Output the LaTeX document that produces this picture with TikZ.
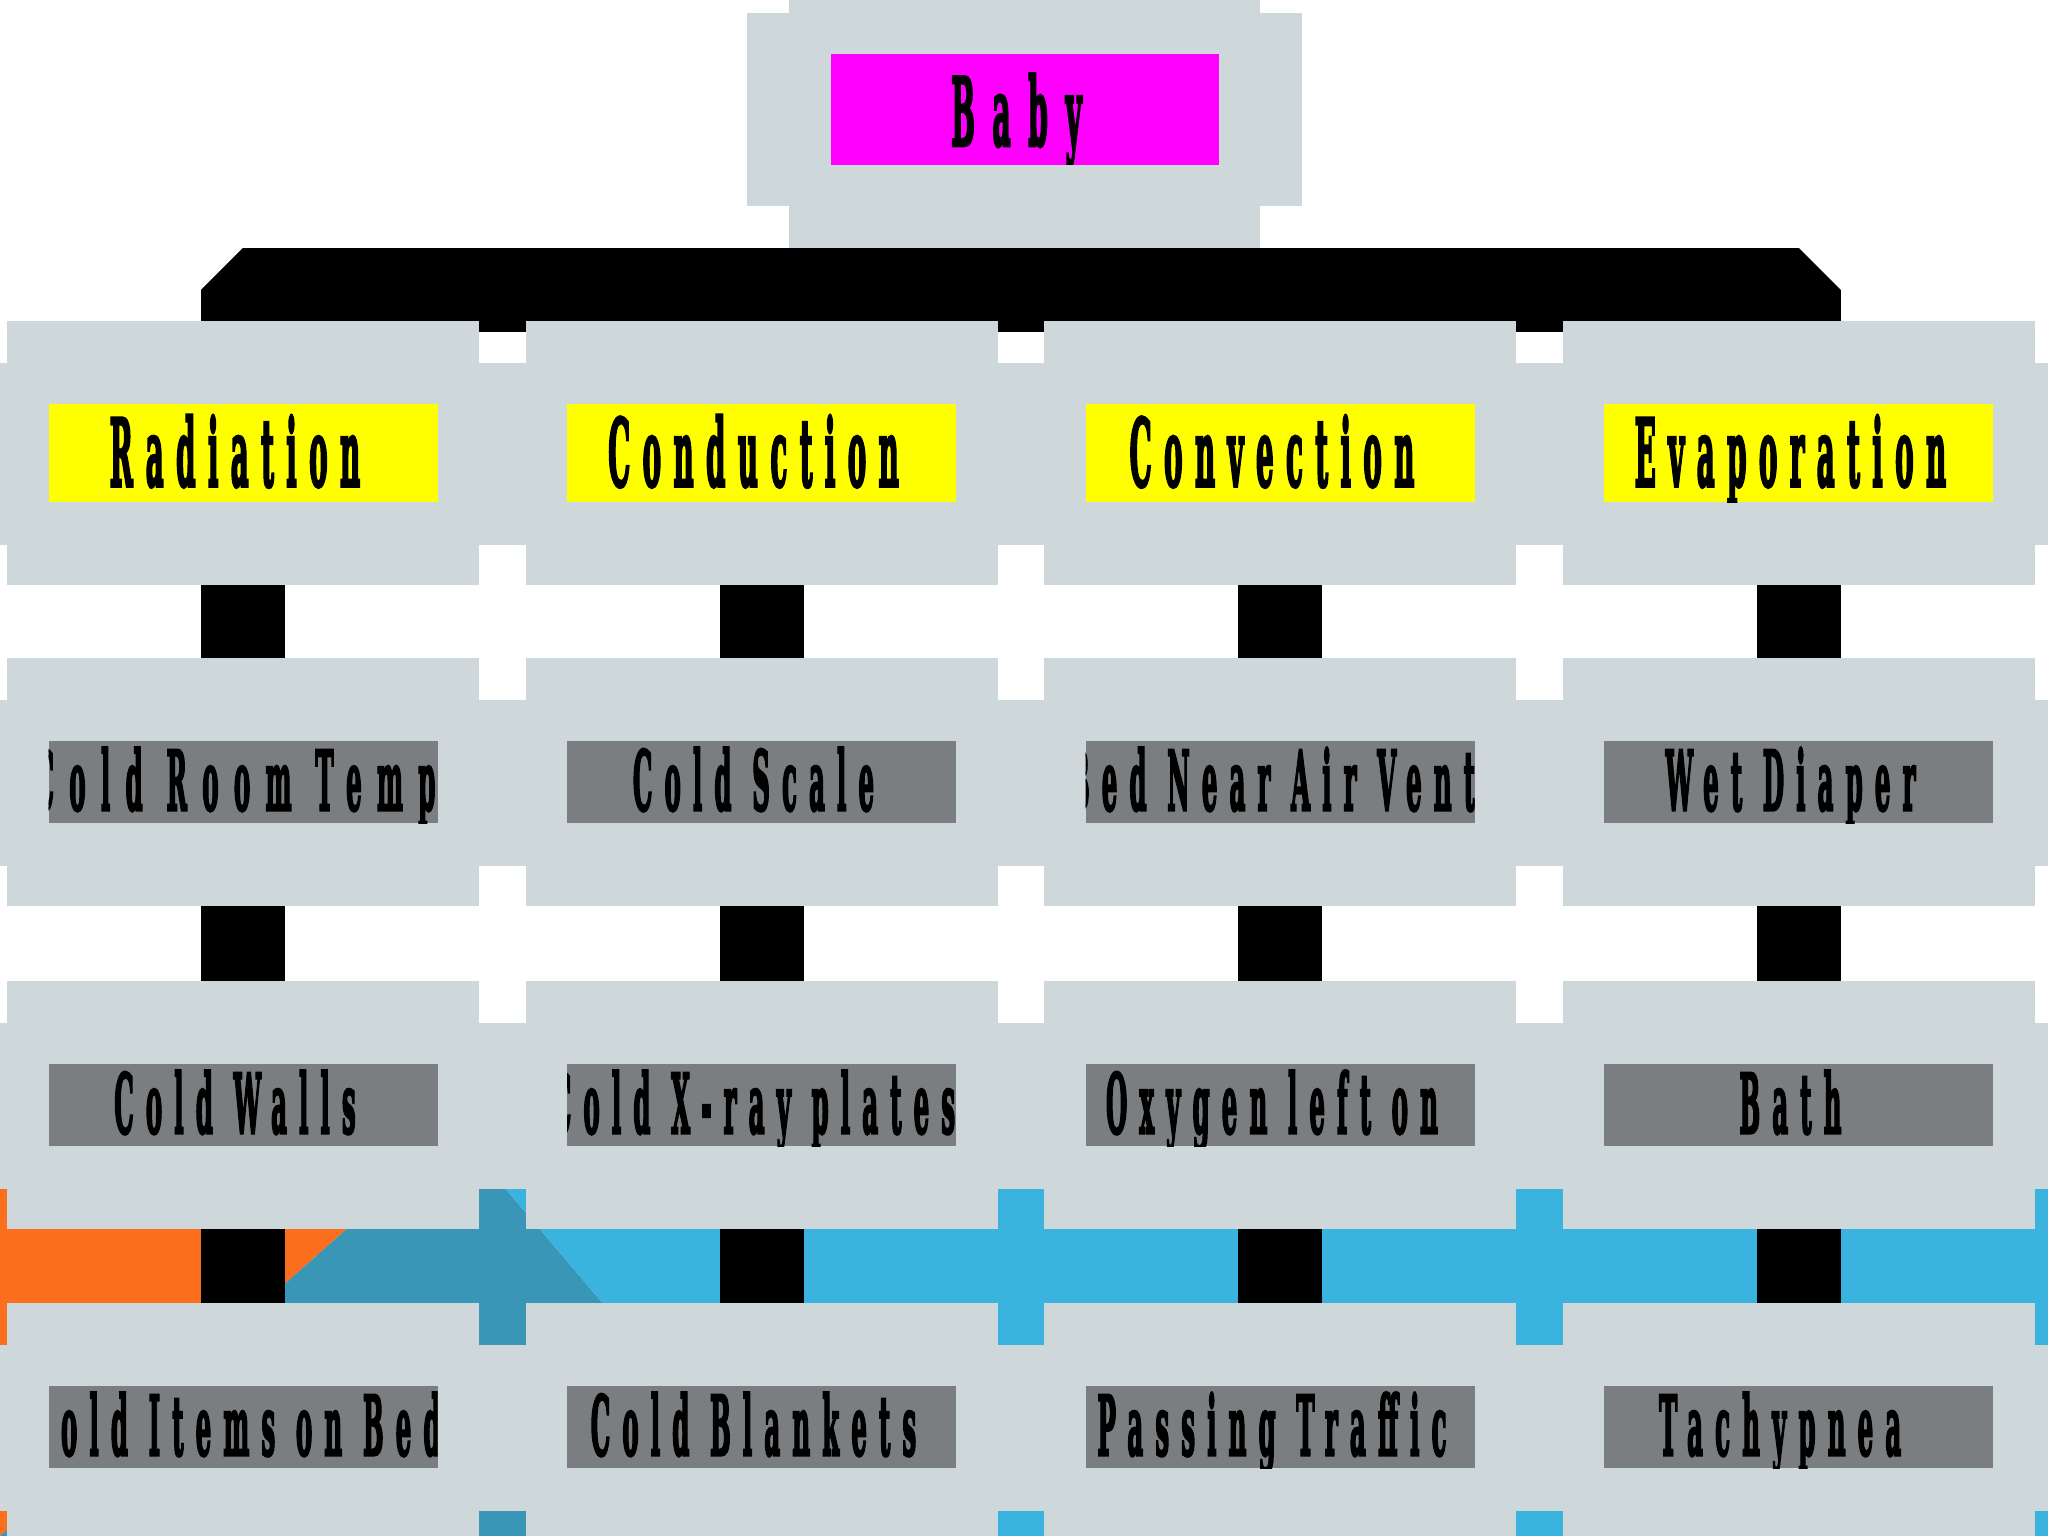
\documentclass[tikz,border=0pt]{standalone}
\usepackage{fontspec}
\usepackage{graphicx}
\newfontfamily\headfont[LetterSpace=44,BoldFeatures={FakeBold=4}]{DejaVu Serif}
\newfontfamily\cardfont[LetterSpace=49,BoldFeatures={FakeBold=4}]{DejaVu Serif}
\newfontfamily\babyfont[LetterSpace=62,BoldFeatures={FakeBold=4}]{DejaVu Serif}
\definecolor{boxgrey}{RGB}{206,216,218}
\definecolor{labgrey}{RGB}{123,126,128}
\definecolor{babypink}{RGB}{255,0,255}
\definecolor{headyellow}{RGB}{255,255,0}
\definecolor{bgorange}{RGB}{250,110,30}
\definecolor{bgteal}{RGB}{58,150,183}
\definecolor{bgblue}{RGB}{58,180,223}
\pgfdeclarelayer{bg}
\pgfdeclarelayer{links}
\pgfsetlayers{bg,links,main}

\begin{document}
\begin{tikzpicture}[x=1pt,y=-1pt,
	link/.style={line width=84pt,line join=bevel},
	card/.style={fill=boxgrey,inner sep=0pt,minimum width=472pt},
	tag/.style={inner sep=0pt,minimum width=389pt,path picture={
		\node[anchor=base,inner sep=0pt,xshift=-8pt,yshift=\tagshift] at (path picture bounding box.south) {\scalebox{0.3}[1]{\tagfont #1}};}}
	]
	\useasboundingbox (0,0) rectangle (2048,1536);
	\begin{pgfonlayer}{bg}
		\fill[white] (0,0) rectangle (2048,1536);
		\fill[bgorange] (0,1188) -- (393,1188) -- (0,1536) -- cycle;
		\fill[bgteal] (393,1188) -- (505,1188) -- (800,1536) -- (0,1536) -- cycle;
		\fill[bgblue] (505,1188) -- (2048,1188) -- (2048,1536) -- (800,1536) -- cycle;
	\end{pgfonlayer}

	\node[card,minimum width=471pt,minimum height=277pt] (baby) at (1024.5,109.5) {};
	\fill[boxgrey] (747,13) rectangle (1302,206);
	\def\tagshift{19pt}
	\def\tagfont{\babyfont\bfseries\fontsize{94}{100}\selectfont}
	\node[tag=Baby,fill=babypink,minimum width=388pt,minimum height=110pt] (babytag) at (baby) {};

	\def\tagshift{16pt}
	\def\tagfont{\headfont\bfseries\fontsize{93}{100}\selectfont}
	\foreach \n/\x/\txt in {rad/243/Radiation,cond/761.5/Conduction,conv/1280/Convection,evap/1798.5/Evaporation}
	{
		\node[card,minimum height=264pt] (\n) at (\x,453) {};
		\fill[boxgrey] ([shift={(-23pt,-42pt)}]\n.north west) rectangle ([shift={(23pt,40pt)}]\n.south east);
		\node[tag=\txt,fill=headyellow,minimum height=98pt] (\n-tag) at (\n) {};
	}

	\def\tagshift{13pt}
	\def\tagfont{\cardfont\bfseries\fontsize{82}{90}\selectfont}
	\foreach \n/\x/\y/\txt in {
		rad1/243/782/{\addfontfeature{LetterSpace=62}Cold Room Temp},
		cond1/761.5/782/Cold Scale,
		conv1/1280/782/Bed Near Air Vent,
		evap1/1798.5/782/Wet Diaper,
		rad2/243/1105/Cold Walls,
		cond2/761.5/1105/Cold X-ray plates,
		conv2/1280/1105/Oxygen left on,
		evap2/1798.5/1105/Bath,
		rad3/243/1427/Cold Items on Bed,
		cond3/761.5/1427/Cold Blankets,
		conv3/1280/1427/Passing Traffic,
		evap3/1798.5/1427/Tachypnea
	}
	{
		\node[card,minimum height=248pt] (\n) at (\x,\y) {};
		\fill[boxgrey] ([shift={(-23pt,-42pt)}]\n.north west) rectangle ([shift={(23pt,40pt)}]\n.south east);
		\node[tag=\txt,fill=labgrey,minimum height=82pt] (\n-tag) at (\n) {};
	}

	\begin{pgfonlayer}{links}
		\foreach \n in {rad,cond,conv,evap}
			\draw[link] (baby.south) -- ++(0,42) -| (\n.center);
		\foreach \a/\b in {rad/rad1,rad1/rad2,rad2/rad3,cond/cond1,cond1/cond2,cond2/cond3,conv/conv1,conv1/conv2,conv2/conv3,evap/evap1,evap1/evap2,evap2/evap3}
			\draw[link] (\a) -- (\b);
	\end{pgfonlayer}
\end{tikzpicture}
\end{document}
